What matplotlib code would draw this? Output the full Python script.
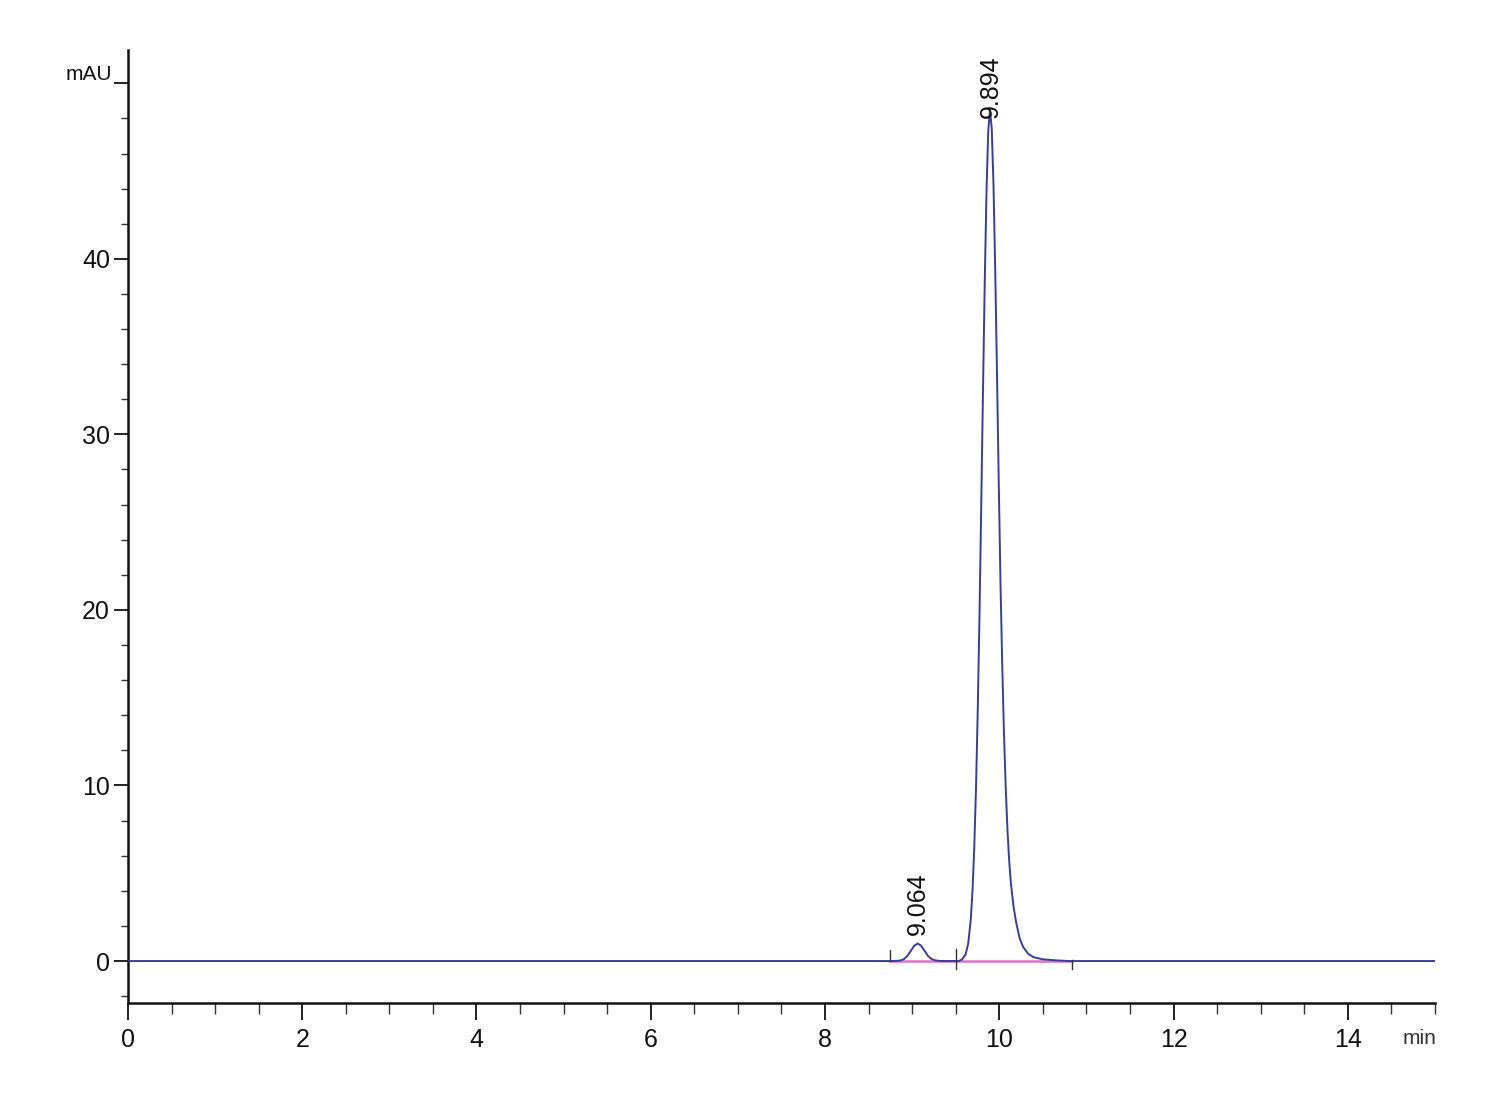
import matplotlib
matplotlib.use("Agg")
import matplotlib.pyplot as plt
from matplotlib.ticker import MultipleLocator, FixedLocator

# ---- data ----
time_min = [0.0, 2.0, 4.0, 6.0, 8.0, 8.75,
            8.824, 8.864, 8.904, 8.944, 8.984, 9.024, 9.064, 9.104, 9.144, 9.184,
            9.224, 9.264, 9.304, 9.35, 9.45,
            9.534, 9.574, 9.614, 9.644, 9.674, 9.694, 9.714, 9.734, 9.754, 9.774,
            9.794, 9.814, 9.834, 9.854, 9.874, 9.894, 9.914, 9.934, 9.954, 9.974,
            9.994, 10.014, 10.034, 10.054, 10.074, 10.094, 10.114, 10.134, 10.164,
            10.194, 10.234, 10.274, 10.334, 10.394, 10.494, 10.644, 10.794,
            11.0, 12.0, 13.0, 14.0, 15.0]
signal_mau = [0.0, 0.0, 0.0, 0.0, 0.0, 0.0,
              0.01, 0.03, 0.10, 0.28, 0.57, 0.87, 1.0, 0.87, 0.57, 0.28,
              0.11, 0.04, 0.01, 0.0, 0.0,
              0.0, 0.09, 0.38, 1.0, 2.4, 4.1, 6.6, 10.0, 14.5, 19.9,
              26.2, 32.7, 38.8, 43.9, 47.3, 48.5, 47.4, 44.2, 39.3, 33.5,
              27.3, 21.6, 16.9, 13.0, 9.9, 7.5, 5.7, 4.4, 3.1,
              2.2, 1.3, 0.8, 0.4, 0.22, 0.1, 0.04, 0.0,
              0.0, 0.0, 0.0, 0.0, 0.0]

peak_rt = [9.064, 9.894]
peak_height = [1.0, 48.5]
peak_labels = ["9.064", "9.894"]

baseline_start = 8.75
baseline_split = 9.50
baseline_end = 10.83

x_major = [0, 2, 4, 6, 8, 10, 12, 14]
y_major = [0, 10, 20, 30, 40, 50]
y_tick_labels = ["0", "10", "20", "30", "40", ""]

# ---- figure ----
narrow = ["Liberation Sans Narrow", "Liberation Sans", "DejaVu Sans"]
regular = ["Liberation Sans", "DejaVu Sans"]

fig = plt.figure(figsize=(15, 11), dpi=100)
ax = fig.add_axes([0.0853, 0.0882, 0.8713, 0.8664])

trace_color = "#3c3c9c"
ax.plot(time_min, signal_mau, color=trace_color, lw=1.4, zorder=3)

# integration baseline
ax.plot([baseline_start, baseline_end], [0, 0], color="#e070c8", lw=1.8, zorder=2)
# integration markers
ax.plot([baseline_start, baseline_start], [0, 0.65], color="#333333", lw=1.0, zorder=4)
ax.plot([baseline_split, baseline_split], [-0.45, 0.7], color="#333333", lw=1.0, zorder=4)
ax.plot([baseline_end, baseline_end], [-0.45, 0.05], color="#333333", lw=1.0, zorder=4)

# peak labels
for rt, h, lab in zip(peak_rt, peak_height, peak_labels):
    y0 = h + 0.5 if h < 5 else h - 0.5
    ax.text(rt + 0.005, y0, lab, rotation=90, ha="center", va="bottom",
            fontsize=18, family=regular, color="#111111", zorder=5)

ax.set_xlim(0, 15)
ax.set_ylim(-2.39, 51.9)

for s in ["top", "right"]:
    ax.spines[s].set_visible(False)
for s in ["left", "bottom"]:
    ax.spines[s].set_linewidth(1.8)
    ax.spines[s].set_color("#111111")

ax.xaxis.set_major_locator(FixedLocator(x_major))
ax.xaxis.set_minor_locator(MultipleLocator(0.5))
ax.yaxis.set_major_locator(FixedLocator(y_major))
ax.yaxis.set_minor_locator(MultipleLocator(2))
ax.set_yticklabels(y_tick_labels)

ax.tick_params(axis="x", which="major", direction="out", length=12, width=1.3,
               pad=6, labelsize=18, colors="#111111")
ax.tick_params(axis="x", which="minor", direction="out", length=8, width=1.0,
               colors="#333333")
ax.tick_params(axis="y", which="major", direction="out", length=10, width=1.3,
               pad=3, labelsize=18, colors="#111111")
ax.tick_params(axis="y", which="minor", direction="out", length=5, width=1.0,
               colors="#333333")
for lab in ax.get_xticklabels() + ax.get_yticklabels():
    lab.set_family(narrow)

ax.text(-0.012, 0.984, "mAU", transform=ax.transAxes, ha="right", va="top",
        fontsize=15, family=narrow, color="#111111")
ax.text(1.001, -0.027, "min", transform=ax.transAxes, ha="right", va="top",
        fontsize=15, family=narrow, color="#333333")

fig.savefig("out.png", dpi=100, facecolor="white")
